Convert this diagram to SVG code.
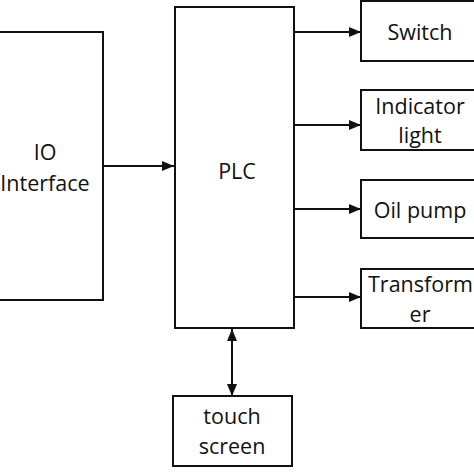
<svg xmlns="http://www.w3.org/2000/svg" width="474" height="474" viewBox="0 0 474 474">
<style>
.box{fill:#fff;stroke:#111;stroke-width:2}
.t{font-family:"Open Sans","Noto Sans",sans-serif;font-size:21.5px;fill:#111;text-anchor:middle;dominant-baseline:central}
.c{stroke:#111;stroke-width:2;fill:none}
</style>
<defs>
<marker id="ah" viewBox="0 0 12 10" refX="12" refY="5" markerWidth="12" markerHeight="10" markerUnits="userSpaceOnUse" orient="auto-start-reverse">
<path d="M0,0 L12,5 L0,10 z" fill="#111"/>
</marker>
</defs>
<rect width="474" height="474" fill="#fff"/>
<g id="io">
<rect class="box" x="-10" y="32" width="113" height="268"/>
<text class="t" x="45" y="151">IO</text>
<text class="t" x="45" y="182">Interface</text>
</g>
<g id="plc">
<rect class="box" x="175" y="7" width="119" height="321"/>
<text class="t" x="237" y="170">PLC</text>
</g>
<g id="switch">
<rect class="box" x="361" y="1" width="130" height="60"/>
<text class="t" x="420" y="31">Switch</text>
</g>
<g id="indicator">
<rect class="box" x="361" y="90" width="130" height="60"/>
<text class="t" x="420" y="105">Indicator</text>
<text class="t" x="420" y="134">light</text>
</g>
<g id="oilpump">
<rect class="box" x="361" y="180" width="130" height="58"/>
<text class="t" x="420" y="209">Oil pump</text>
</g>
<g id="transformer">
<rect class="box" x="361" y="269" width="130" height="59"/>
<text class="t" x="368" y="283" style="text-anchor:start">Transform</text>
<text class="t" x="420" y="313">er</text>
</g>
<g id="touch">
<rect class="box" x="173" y="396" width="119" height="70"/>
<text class="t" x="232" y="415">touch</text>
<text class="t" x="232" y="445">screen</text>
</g>
<g id="connectors">
<line class="c" x1="103" y1="166" x2="174" y2="166" marker-end="url(#ah)"/>
<line class="c" x1="295" y1="32" x2="361" y2="32" marker-end="url(#ah)"/>
<line class="c" x1="295" y1="125" x2="361" y2="125" marker-end="url(#ah)"/>
<line class="c" x1="295" y1="209" x2="361" y2="209" marker-end="url(#ah)"/>
<line class="c" x1="295" y1="297" x2="361" y2="297" marker-end="url(#ah)"/>
<line class="c" x1="232" y1="329" x2="232" y2="396" marker-start="url(#ah)" marker-end="url(#ah)"/>
</g>
</svg>
